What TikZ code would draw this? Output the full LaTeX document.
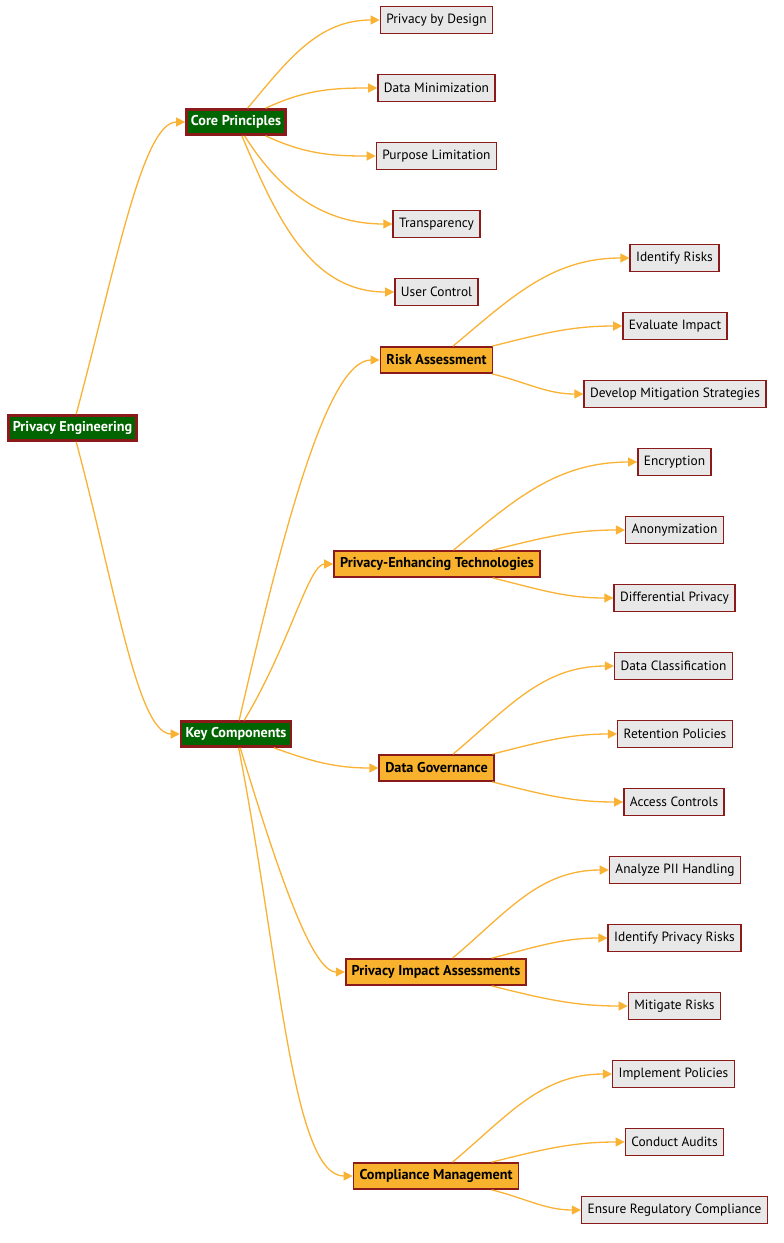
\documentclass[tikz,border=0pt]{standalone}
\usepackage{fontspec}
\setmainfont{PT Sans}
\usetikzlibrary{arrows.meta,positioning}
\definecolor{leafgray}{HTML}{E8E8E8}
\definecolor{rimred}{HTML}{8B1A1A}
\definecolor{hubgreen}{HTML}{006400}
\definecolor{hubamber}{HTML}{F8B22E}
\definecolor{linkamber}{HTML}{F9B233}
\tikzset{
    every edge/.style={draw=linkamber, line width=1.3pt, -{Triangle[length=9pt,width=9pt]}},
    longlink/.style={out looseness=1.25, in looseness=0.35},
    hub/.style ={draw=rimred, line width=2.6pt, fill=hubgreen, text=white, font=\bfseries\fontsize{14.2}{16}\selectfont, minimum height=25pt, inner xsep=4.5pt},
    branch/.style ={draw=rimred, line width=1.8pt, fill=hubamber, text=black, font=\bfseries\fontsize{14.2}{16}\selectfont, minimum height=26pt, inner xsep=6pt},
    leaf/.style ={draw=rimred, line width=1.5pt, fill=leafgray, text=black, font=\fontsize{13.4}{15}\selectfont, minimum height=27pt, inner xsep=6pt}
}

\begin{document}
\begin{tikzpicture}[x=1pt,y=-1pt]
        \useasboundingbox (0,0) rectangle (784,1243);
        \node[hub] (root) at (72.5,428) {Privacy Engineering};
        \node[hub] (core) at (236,122) {Core Principles};
        \node[hub] (keys) at (236,734) {Key Components};
        % Core principles
        \node[leaf] (byDesign) at (436.5,20) {Privacy by Design};
        \node[leaf] (minim) at (436.5,88) {Data Minimization};
        \node[leaf] (purpose) at (436.5,156) {Purpose Limitation};
        \node[leaf] (transp) at (436.5,224) {Transparency};
        \node[leaf] (userCtl) at (436.5,292) {User Control};
        % Key components
        \node[branch] (risk) at (436.5,360) {Risk Assessment};
        \node[branch] (pet) at (437,564) {Privacy-Enhancing Technologies};
        \node[branch] (gov) at (436.5,768) {Data Governance};
        \node[branch] (pia) at (436,972) {Privacy Impact Assessments};
        \node[branch] (comp) at (436,1176) {Compliance Management};
        \node[leaf] (idRisk) at (674.5,258) {Identify Risks};
        \node[leaf] (evalImp) at (675,326) {Evaluate Impact};
        \node[leaf] (mitig) at (675,394) {Develop Mitigation Strategies};
        \node[leaf] (encr) at (674.5,462) {Encryption};
        \node[leaf] (anon) at (674.5,530) {Anonymization};
        \node[leaf] (diffPriv) at (674.5,598) {Differential Privacy};
        \node[leaf] (classif) at (673.5,666) {Data Classification};
        \node[leaf] (retent) at (675,734) {Retention Policies};
        \node[leaf] (access) at (674,802) {Access Controls};
        \node[leaf] (pii) at (675,870) {Analyze PII Handling};
        \node[leaf] (idPriv) at (674.5,938) {Identify Privacy Risks};
        \node[leaf] (mitRisk) at (674.5,1006) {Mitigate Risks};
        \node[leaf] (implPol) at (673.5,1074) {Implement Policies};
        \node[leaf] (audits) at (674.5,1142) {Conduct Audits};
        \node[leaf] (regComp) at (674.5,1210) {Ensure Regulatory Compliance};
        % Root
        \path (root) edge[out=75,in=180,longlink] (core);
        \path (root) edge[out=-75,in=180,longlink] (keys);
        % Principles
        \path (core) edge[out=50,in=180] (byDesign);
        \path (core) edge[out=25,in=180] (minim);
        \path (core) edge[out=-25,in=180] (purpose);
        \path (core) edge[out=-58,in=180] (transp);
        \path (core) edge[out=-67,in=180] (userCtl);
        % Components
        \path (keys) edge[out=77,in=180,longlink] (risk);
        \path (keys) edge[out=59,in=180,longlink] (pet);
        \path (keys) edge[out=-20,in=180] (gov);
        \path (keys) edge[out=-73,in=180,longlink] (pia);
        \path (keys) edge[out=-79,in=180,longlink] (comp);
        % Details
        \foreach \hubname/\up/\mid/\down in {risk/idRisk/evalImp/mitig, pet/encr/anon/diffPriv, gov/classif/retent/access, pia/pii/idPriv/mitRisk, comp/implPol/audits/regComp}{
            \path (\hubname) edge[out=40,in=180] (\up);
            \path (\hubname) edge[out=14,in=180] (\mid);
            \path (\hubname) edge[out=-14,in=180] (\down);
        }
    \end{tikzpicture}
\end{document}
